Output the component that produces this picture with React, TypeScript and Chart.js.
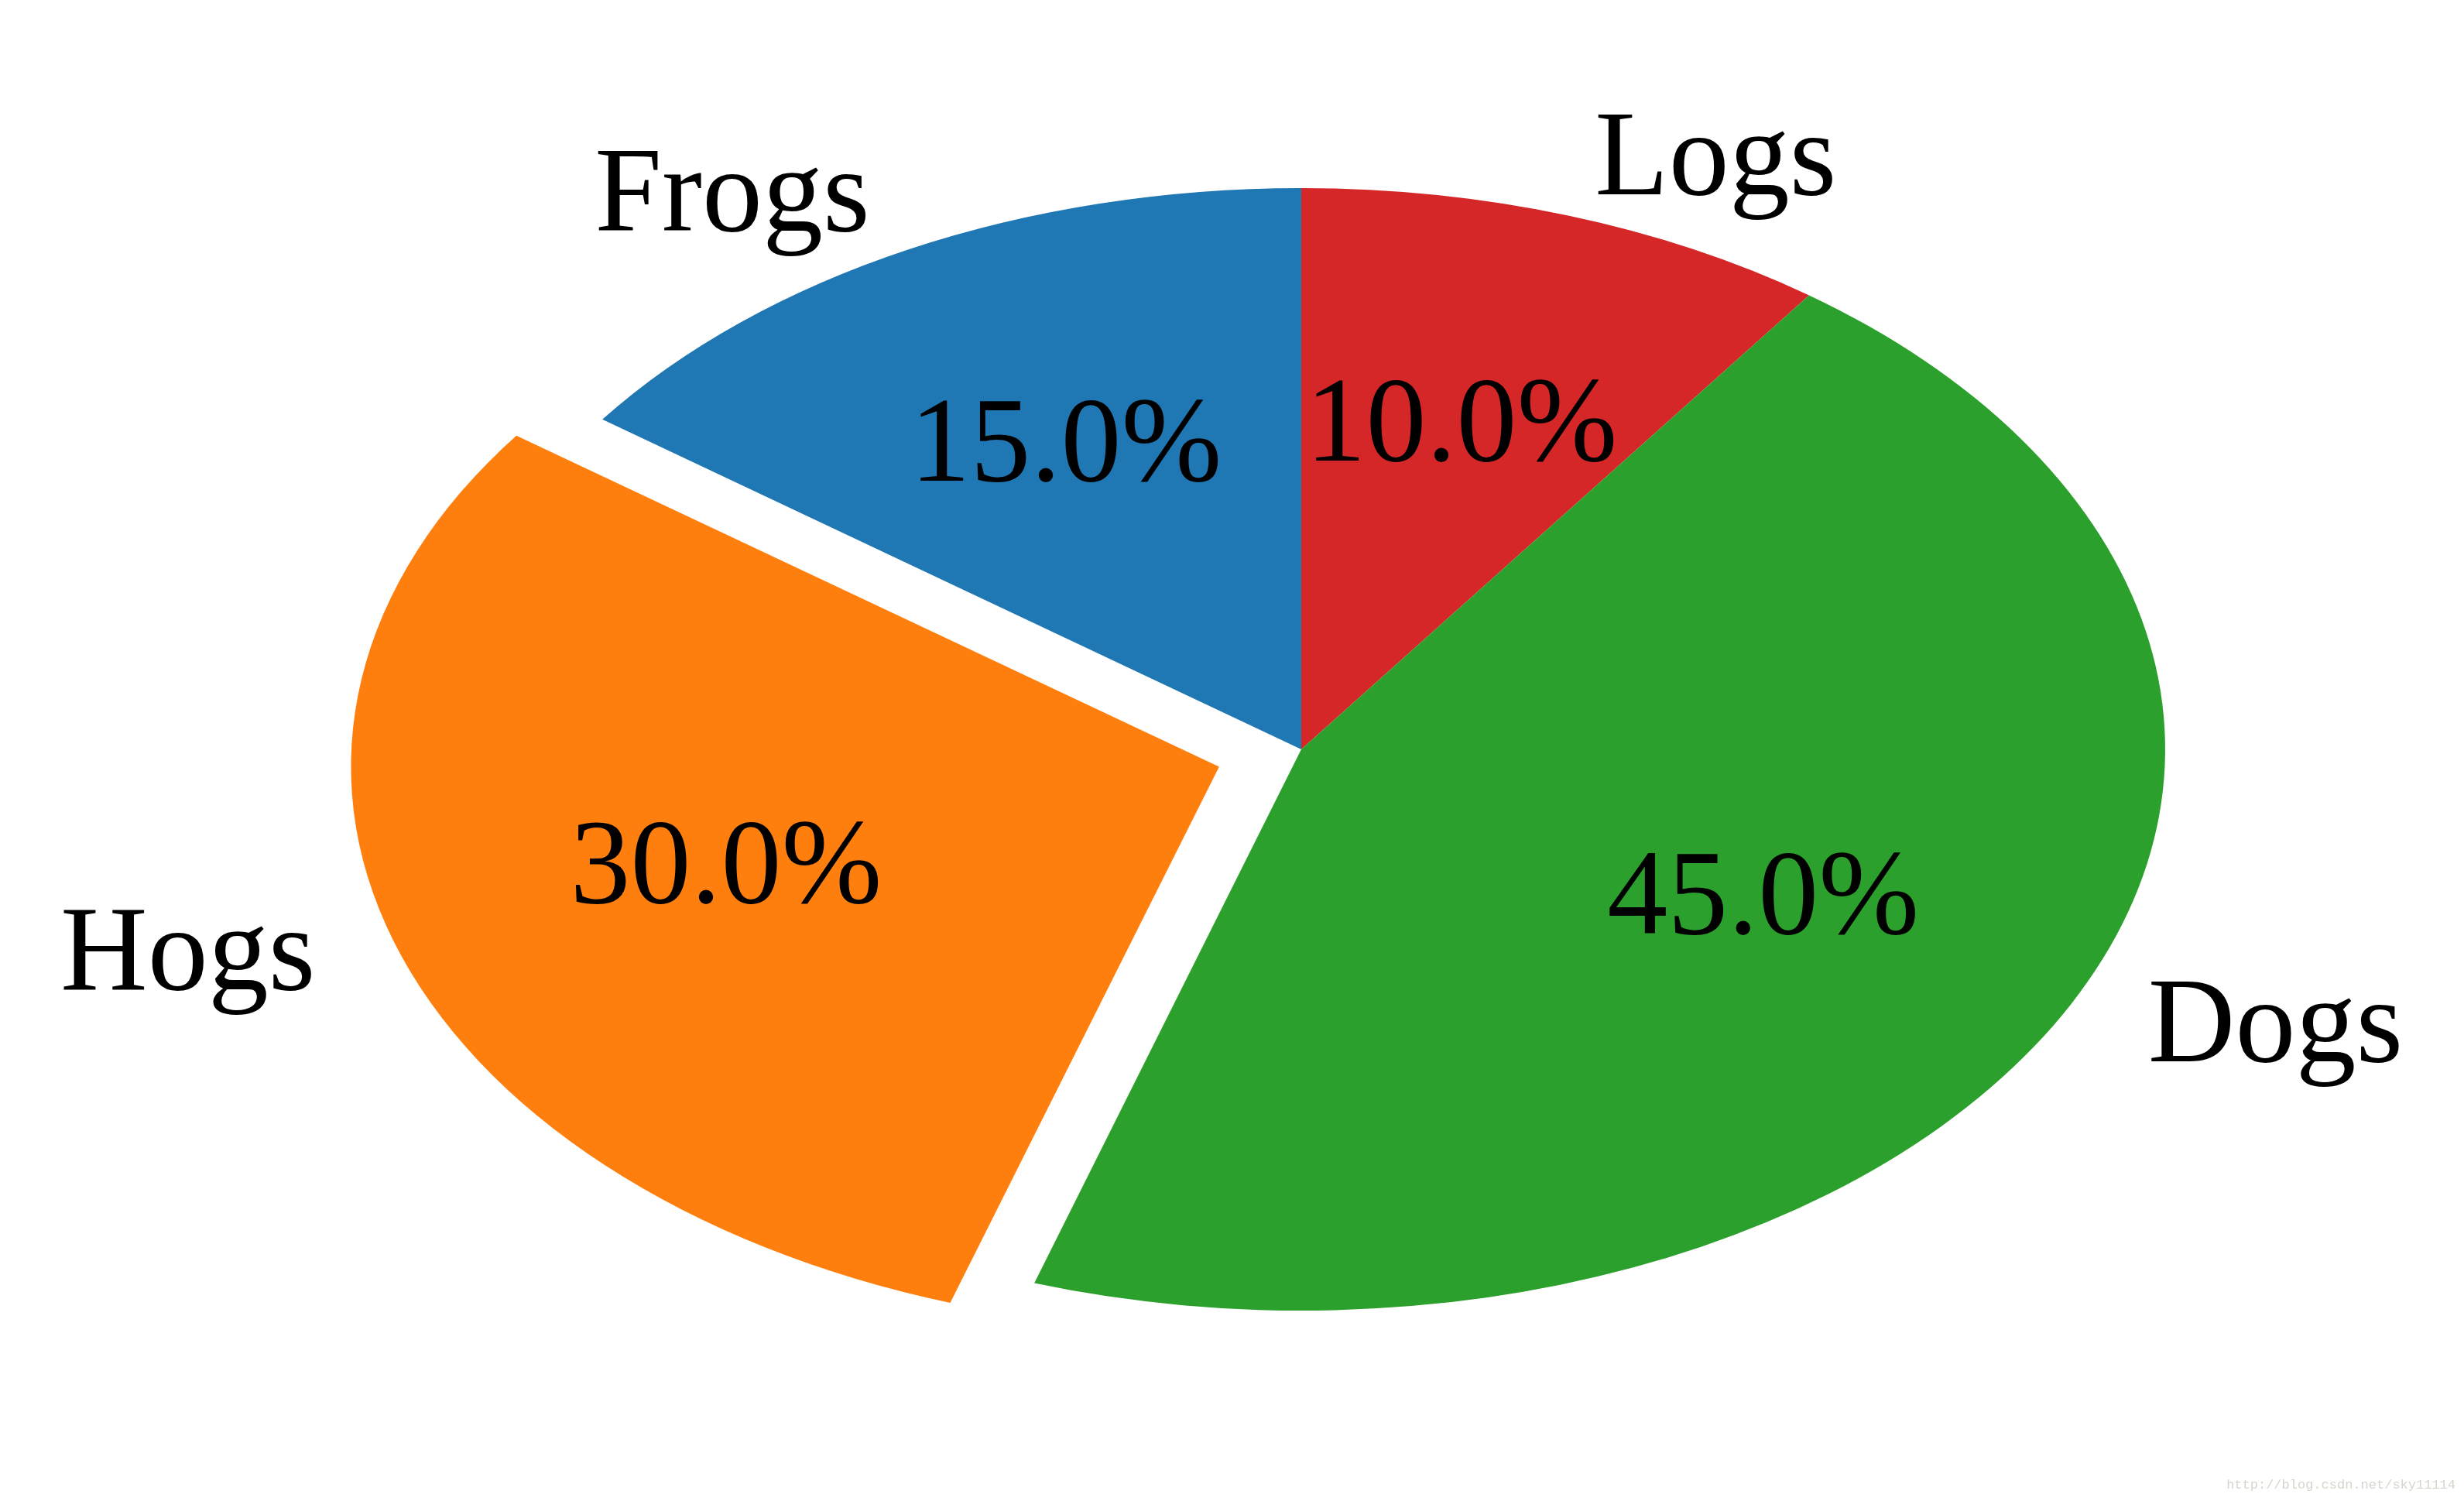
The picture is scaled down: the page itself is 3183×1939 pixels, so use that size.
import React, { useEffect, useRef } from 'react';
import { Chart, registerables } from 'chart.js';

Chart.register(...registerables);

// ---- data (matplotlib order: counter-clockwise from 12 o'clock) ----
const categories = ['Frogs', 'Hogs', 'Dogs', 'Logs'];
const shares = [15, 30, 45, 10];
const sliceColors = ['#1f77b4', '#ff7f0e', '#2ca02c', '#d62728'];
const explode = [0, 0.1, 0, 0];
const watermark = 'http://blog.csdn.net/sky11114';

// ---- layout ----
const W = 3183;
const H = 1939;
const R = 725; // vertical radius of the pie
const SX = 1116 / 725; // horizontal stretch (pie is drawn as an ellipse)
const LABEL_DIST = 1.1;
const PCT_DIST = 0.6;
const FONT = '156px "Liberation Serif", "DejaVu Serif", serif';

// Chart.js draws clockwise; reverse to get matplotlib's counter-clockwise order
const chartLabels = [...categories].reverse();
const chartData = [...shares].reverse();
const chartColors = [...sliceColors].reverse();
const chartOffsets = [...explode].reverse().map((e) => e * R * 4); // ArcElement translates by offset/4

const ellipsePlugin = {
  id: 'ellipsePie',
  beforeDatasetsDraw(chart: any) {
    const meta = chart.getDatasetMeta(0);
    const arc = meta.data[0];
    const ctx = chart.ctx;
    ctx.save();
    ctx.translate(arc.x, 0);
    ctx.scale(SX, 1);
    ctx.translate(-arc.x, 0);
  },
  afterDatasetsDraw(chart: any) {
    chart.ctx.restore();
  },
  afterDraw(chart: any) {
    const ctx = chart.ctx;
    const meta = chart.getDatasetMeta(0);
    const values = chart.data.datasets[0].data as number[];
    const total = values.reduce((a: number, b: number) => a + b, 0);
    ctx.save();
    ctx.font = FONT;
    ctx.fillStyle = '#000000';
    meta.data.forEach((arc: any, i: number) => {
      const mid = (arc.startAngle + arc.endAngle) / 2;
      const c = Math.cos(mid);
      const s = Math.sin(mid);
      const shift = (arc.options.offset || 0) / 4;
      const cx = arc.x;
      const cy = arc.y;
      const place = (d: number) => {
        const px = cx + c * (shift + d * arc.outerRadius);
        const py = cy + s * (shift + d * arc.outerRadius);
        return [cx + SX * (px - cx), py];
      };
      const [lx, ly] = place(LABEL_DIST);
      ctx.textAlign = c > 0 ? 'left' : 'right';
      ctx.textBaseline = 'middle';
      ctx.fillText(String(chart.data.labels[i]), lx, ly);
      const [tx, ty] = place(PCT_DIST);
      ctx.textAlign = 'center';
      ctx.fillText(((values[i] / total) * 100).toFixed(1) + '%', tx, ty);
    });
    ctx.font = '17px "Liberation Mono", "DejaVu Sans Mono", monospace';
    ctx.fillStyle = '#d6d6cc';
    ctx.textAlign = 'right';
    ctx.textBaseline = 'middle';
    ctx.fillText(watermark, 3172, 1918);
    ctx.restore();
  },
};

export default function App() {
  const canvasRef = useRef<HTMLCanvasElement | null>(null);

  useEffect(() => {
    document.body.style.margin = '0';
    document.body.style.background = '#ffffff';
    const canvas = canvasRef.current;
    if (!canvas) return;
    const chart = new Chart(canvas, {
      type: 'pie',
      data: {
        labels: chartLabels,
        datasets: [
          {
            data: chartData,
            backgroundColor: chartColors,
            borderWidth: 0,
            offset: chartOffsets,
            hoverOffset: 0,
            radius: R,
            clip: false,
          } as any,
        ],
      },
      options: {
        animation: false,
        responsive: false,
        devicePixelRatio: 1,
        events: [],
        layout: { padding: { left: 179, right: 0, top: 0, bottom: 3 } },
        plugins: {
          legend: { display: false },
          tooltip: { enabled: false },
        },
      },
      plugins: [ellipsePlugin],
    });
    return () => chart.destroy();
  }, []);

  return (
    <div style={{ position: 'absolute', left: 0, top: 0, width: W, height: H, background: '#fff' }}>
      <canvas ref={canvasRef} width={W} height={H} style={{ width: W, height: H, display: 'block' }} />
    </div>
  );
}
